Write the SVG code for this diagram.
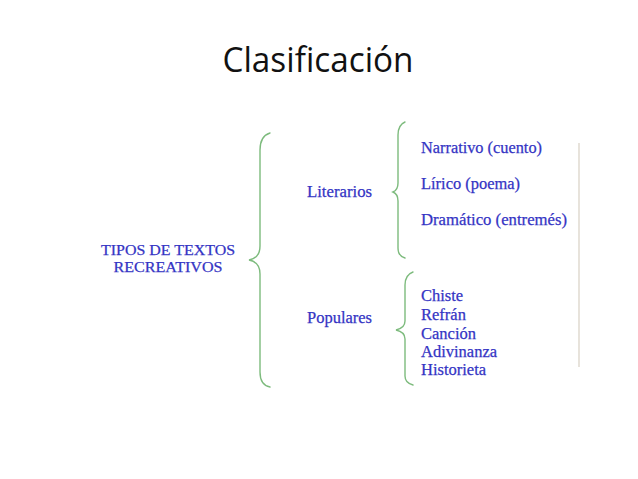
<svg xmlns="http://www.w3.org/2000/svg" width="638" height="479" viewBox="0 0 638 479">
<style>
.t{font-family:"Liberation Serif","Times New Roman",serif;fill:#3434c4;stroke:#3434c4;stroke-width:0.25;font-size:16.5px}
.b{fill:none;stroke:#7dbb7d;stroke-width:1.4;stroke-linecap:round}
.title{font-family:"Open Sans","Liberation Sans",sans-serif;font-size:34px;fill:#111}
</style>
<rect width="638" height="479" fill="#fff"/>
<text class="title" x="318" y="72" text-anchor="middle" textLength="191" lengthAdjust="spacingAndGlyphs">Clasificación</text>
<line x1="579" y1="143" x2="579" y2="367" stroke="#d8d0c4" stroke-width="1.2"/>
<g id="connectors">
<path class="b" d="M270,133 Q260,136 260,150 L260,246 Q260,258 249,260 Q260,262 260,274 L260,372 Q260,385 270,387"/>
<path class="b" d="M405,122 Q398,125 398,135 L398,183 Q398,190 393,192 Q398,194 398,201 L398,248 Q398,256 405,258"/>
<path class="b" d="M413,272 Q405,275 405,285 L405,321 Q405,328 396,330 Q405,332 405,339 L405,376 Q405,383 413,385"/>
</g>
<g id="root">
<text class="t" style="font-size:15px" x="168" y="255" text-anchor="middle" textLength="134" lengthAdjust="spacingAndGlyphs">TIPOS  DE TEXTOS</text>
<text class="t" style="font-size:15px" x="168" y="272" text-anchor="middle" textLength="109" lengthAdjust="spacingAndGlyphs">RECREATIVOS</text>
</g>
<g id="literarios"><text class="t" x="307" y="197" textLength="65" lengthAdjust="spacingAndGlyphs">Literarios</text></g>
<g id="populares"><text class="t" x="307" y="323" textLength="65" lengthAdjust="spacingAndGlyphs">Populares</text></g>
<g id="narrativo"><text class="t" x="421" y="153" textLength="121" lengthAdjust="spacingAndGlyphs">Narrativo (cuento)</text></g>
<g id="lirico"><text class="t" x="421" y="189" textLength="99" lengthAdjust="spacingAndGlyphs">Lírico (poema)</text></g>
<g id="dramatico"><text class="t" x="421" y="225" textLength="146" lengthAdjust="spacingAndGlyphs">Dramático (entremés)</text></g>
<g id="chiste"><text class="t" x="421" y="301">Chiste</text></g>
<g id="refran"><text class="t" x="421" y="320">Refrán</text></g>
<g id="cancion"><text class="t" x="421" y="339">Canción</text></g>
<g id="adivinanza"><text class="t" x="421" y="357">Adivinanza</text></g>
<g id="historieta"><text class="t" x="421" y="375">Historieta</text></g>
</svg>
